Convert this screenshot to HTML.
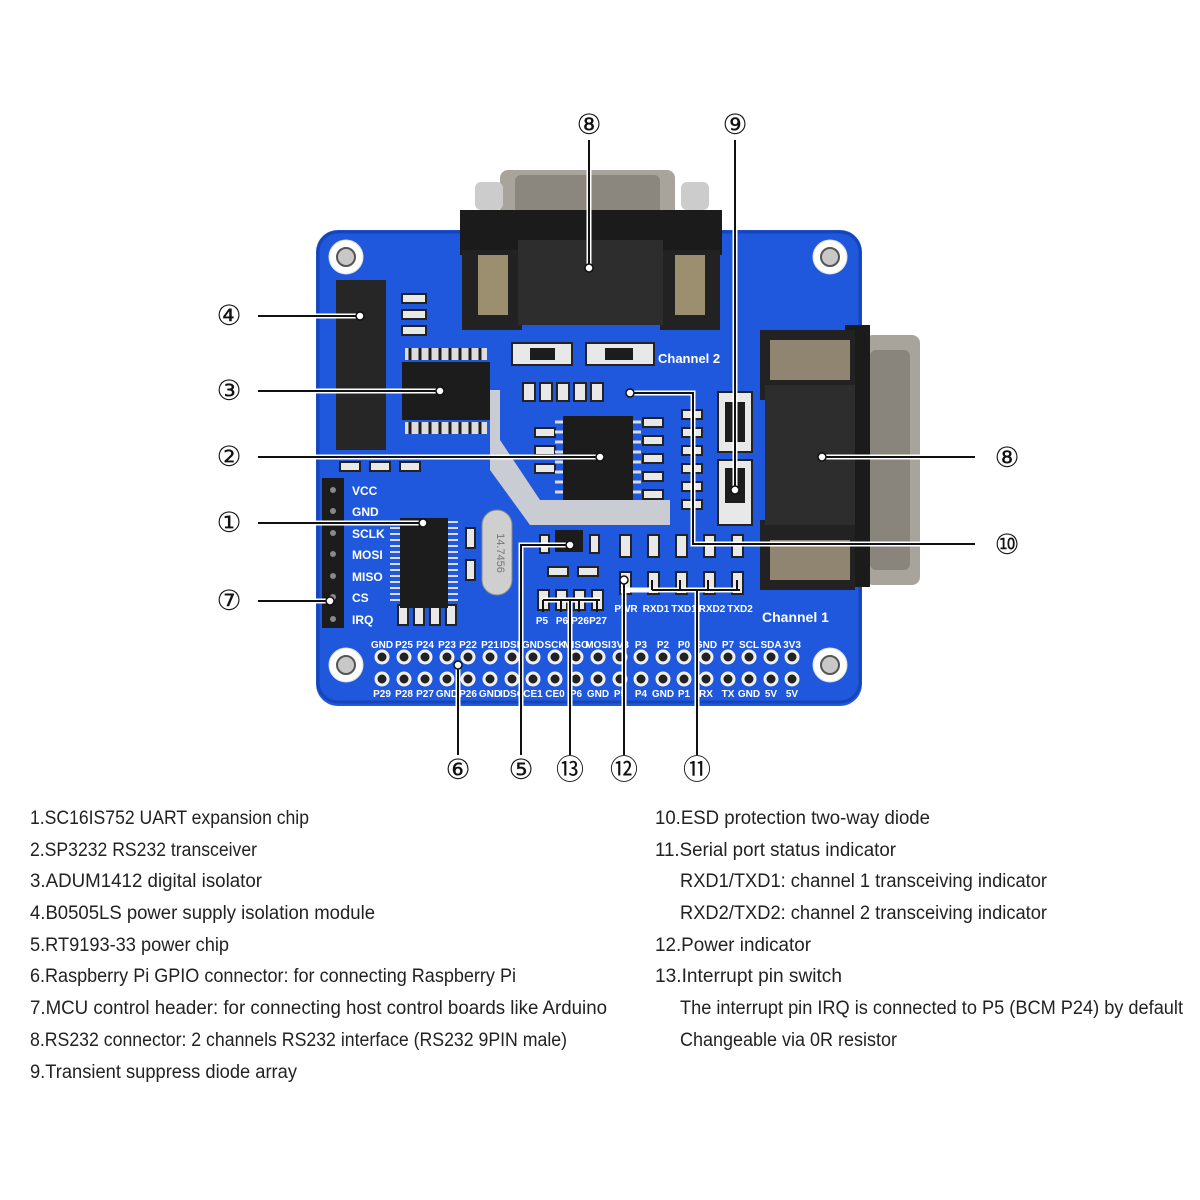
<!DOCTYPE html>
<html><head><meta charset="utf-8"><style>
html,body{margin:0;padding:0;background:#fff;}
svg{display:block}
.t{font-family:"Liberation Sans",sans-serif;font-size:19px;fill:#222}
.c{font-family:"DejaVu Sans",sans-serif;font-size:28px;fill:#111;text-anchor:middle}
.w{font-family:"Liberation Sans",sans-serif;font-weight:bold;fill:#fff}
.p{font-family:"Liberation Sans",sans-serif;font-weight:bold;fill:#fff;font-size:10px;text-anchor:middle}
</style></head><body>
<svg width="1200" height="1200" viewBox="0 0 1200 1200" xmlns="http://www.w3.org/2000/svg">
<rect width="1200" height="1200" fill="#fff"/>
<rect x="316" y="230" width="546" height="476" rx="22" fill="#1f58dc"/>
<rect x="318" y="232" width="542" height="470" rx="20" fill="none" stroke="#1645b8" stroke-width="3"/>
<path d="M500 390 L500 440 L540 500 L670 500 L670 525 L530 525 L490 470 L490 390 Z" fill="#c9ccd3"/>
<g fill="#fff" stroke="#ddd"><circle cx="346" cy="257" r="17"/><circle cx="830" cy="257" r="17"/><circle cx="346" cy="665" r="17"/><circle cx="830" cy="665" r="17"/></g>
<g fill="#c8c8c8" stroke="#555" stroke-width="2"><circle cx="346" cy="257" r="9"/><circle cx="830" cy="257" r="9"/><circle cx="346" cy="665" r="9"/><circle cx="830" cy="665" r="9"/></g>
<rect x="500" y="170" width="175" height="50" rx="8" fill="#a9a49b"/>
<rect x="515" y="175" width="145" height="40" rx="6" fill="#8c877e"/>
<rect x="460" y="210" width="262" height="45" fill="#1b1b1b"/>
<rect x="475" y="182" width="28" height="28" rx="6" fill="#ccc"/><rect x="681" y="182" width="28" height="28" rx="6" fill="#ccc"/>
<rect x="462" y="250" width="60" height="80" fill="#222"/><rect x="660" y="250" width="60" height="80" fill="#222"/>
<rect x="478" y="255" width="30" height="60" fill="#9b8f70"/><rect x="675" y="255" width="30" height="60" fill="#9b8f70"/>
<rect x="518" y="240" width="145" height="85" fill="#2d2d2d"/>
<rect x="865" y="335" width="55" height="250" rx="8" fill="#a9a49b"/>
<rect x="870" y="350" width="40" height="220" rx="6" fill="#8a857c"/>
<rect x="845" y="325" width="25" height="262" fill="#1b1b1b"/>
<rect x="760" y="330" width="95" height="70" fill="#222"/><rect x="760" y="520" width="95" height="70" fill="#222"/>
<rect x="770" y="340" width="80" height="40" fill="#8f8570"/><rect x="770" y="540" width="80" height="40" fill="#8f8570"/>
<rect x="765" y="385" width="90" height="140" fill="#2d2d2d"/>
<rect x="336" y="280" width="50" height="170" fill="#262626"/>
<rect x="402" y="362" width="88" height="58" fill="#1c1c1c"/>
<g fill="#ddd"><rect x="405" y="348" width="82" height="12"/><rect x="405" y="422" width="82" height="12"/></g>
<g stroke="#1c1c1c" stroke-width="3"><path d="M410 348v12M420 348v12M430 348v12M440 348v12M450 348v12M460 348v12M470 348v12M480 348v12M410 422v12M420 422v12M430 422v12M440 422v12M450 422v12M460 422v12M470 422v12M480 422v12"/></g>
<g fill="#e8e8e8" stroke="#222" stroke-width="2">
<rect x="402" y="294" width="24" height="9"/><rect x="402" y="310" width="24" height="9"/><rect x="402" y="326" width="24" height="9"/>
<rect x="340" y="462" width="20" height="9"/><rect x="370" y="462" width="20" height="9"/><rect x="400" y="462" width="20" height="9"/>
<rect x="523" y="383" width="12" height="18"/><rect x="540" y="383" width="12" height="18"/><rect x="557" y="383" width="12" height="18"/><rect x="574" y="383" width="12" height="18"/><rect x="591" y="383" width="12" height="18"/>
<rect x="535" y="428" width="20" height="9"/><rect x="535" y="446" width="20" height="9"/><rect x="535" y="464" width="20" height="9"/>
<rect x="643" y="418" width="20" height="9"/><rect x="643" y="436" width="20" height="9"/><rect x="643" y="454" width="20" height="9"/><rect x="643" y="472" width="20" height="9"/><rect x="643" y="490" width="20" height="9"/>
<rect x="682" y="410" width="20" height="9"/><rect x="682" y="428" width="20" height="9"/><rect x="682" y="446" width="20" height="9"/><rect x="682" y="464" width="20" height="9"/><rect x="682" y="482" width="20" height="9"/><rect x="682" y="500" width="20" height="9"/>
<rect x="466" y="528" width="9" height="20"/><rect x="466" y="560" width="9" height="20"/>
<rect x="590" y="535" width="9" height="18"/><rect x="540" y="535" width="9" height="18"/>
<rect x="548" y="567" width="20" height="9"/><rect x="578" y="567" width="20" height="9"/>
<rect x="398" y="605" width="10" height="20"/><rect x="414" y="605" width="10" height="20"/><rect x="430" y="605" width="10" height="20"/><rect x="446" y="605" width="10" height="20"/>
<rect x="538" y="590" width="11" height="20"/><rect x="556" y="590" width="11" height="20"/><rect x="574" y="590" width="11" height="20"/><rect x="592" y="590" width="11" height="20"/>
<rect x="620" y="535" width="11" height="22"/><rect x="648" y="535" width="11" height="22"/><rect x="676" y="535" width="11" height="22"/><rect x="704" y="535" width="11" height="22"/><rect x="732" y="535" width="11" height="22"/>
<rect x="620" y="572" width="11" height="22"/><rect x="648" y="572" width="11" height="22"/><rect x="676" y="572" width="11" height="22"/><rect x="704" y="572" width="11" height="22"/><rect x="732" y="572" width="11" height="22"/>
<rect x="512" y="343" width="60" height="22"/><rect x="586" y="343" width="68" height="22"/>
</g>
<rect x="530" y="348" width="25" height="12" fill="#1c1c1c"/><rect x="605" y="348" width="28" height="12" fill="#1c1c1c"/>
<rect x="718" y="392" width="34" height="60" fill="#e8e8e8" stroke="#222" stroke-width="2"/><rect x="725" y="402" width="20" height="40" fill="#1c1c1c"/>
<rect x="718" y="460" width="34" height="65" fill="#e8e8e8" stroke="#222" stroke-width="2"/><rect x="725" y="468" width="20" height="35" fill="#1c1c1c"/>
<rect x="563" y="416" width="70" height="84" fill="#1c1c1c"/>
<g stroke="#ddd" stroke-width="3"><path d="M555 422h8M555 432h8M555 442h8M555 452h8M555 462h8M555 472h8M555 482h8M555 492h8M633 422h8M633 432h8M633 442h8M633 452h8M633 462h8M633 472h8M633 482h8M633 492h8"/></g>
<rect x="400" y="518" width="48" height="90" fill="#1c1c1c"/>
<g stroke="#ddd" stroke-width="2"><path d="M390 522h10M390 528h10M390 534h10M390 540h10M390 546h10M390 552h10M390 558h10M390 564h10M390 570h10M390 576h10M390 582h10M390 588h10M390 594h10M390 600h10M448 522h10M448 528h10M448 534h10M448 540h10M448 546h10M448 552h10M448 558h10M448 564h10M448 570h10M448 576h10M448 582h10M448 588h10M448 594h10M448 600h10"/></g>
<rect x="482" y="510" width="30" height="85" rx="15" fill="#cfcfcf" stroke="#888"/>
<text x="497" y="553" transform="rotate(90 497 553)" font-family="Liberation Sans" font-size="11" fill="#777" text-anchor="middle">14.7456</text>
<rect x="555" y="530" width="28" height="22" fill="#1c1c1c"/>
<rect x="322" y="478" width="22" height="150" fill="#1c1c1c"/>
<g fill="#888"><circle cx="333" cy="490" r="3"/><circle cx="333" cy="511" r="3"/><circle cx="333" cy="533" r="3"/><circle cx="333" cy="554" r="3"/><circle cx="333" cy="576" r="3"/><circle cx="333" cy="597" r="3"/><circle cx="333" cy="619" r="3"/></g>
<g class="w" font-size="12"><text x="352" y="495">VCC</text><text x="352" y="516">GND</text><text x="352" y="538">SCLK</text><text x="352" y="559">MOSI</text><text x="352" y="581">MISO</text><text x="352" y="602">CS</text><text x="352" y="624">IRQ</text></g>
<text class="w" x="658" y="363" font-size="13">Channel 2</text>
<text class="w" x="762" y="622" font-size="14">Channel 1</text>
<g class="p" font-size="8"><text x="542" y="624">P5</text><text x="562" y="624">P6</text><text x="580" y="624">P26</text><text x="598" y="624">P27</text><text x="626" y="612">PWR</text><text x="656" y="612">RXD1</text><text x="684" y="612">TXD1</text><text x="712" y="612">RXD2</text><text x="740" y="612">TXD2</text></g>
<g fill="#222" stroke="#f0f0f0" stroke-width="3">
<circle cx="382" cy="657" r="6"/><circle cx="404" cy="657" r="6"/><circle cx="425" cy="657" r="6"/><circle cx="447" cy="657" r="6"/><circle cx="468" cy="657" r="6"/><circle cx="490" cy="657" r="6"/><circle cx="512" cy="657" r="6"/><circle cx="533" cy="657" r="6"/><circle cx="555" cy="657" r="6"/><circle cx="576" cy="657" r="6"/><circle cx="598" cy="657" r="6"/><circle cx="620" cy="657" r="6"/><circle cx="641" cy="657" r="6"/><circle cx="663" cy="657" r="6"/><circle cx="684" cy="657" r="6"/><circle cx="706" cy="657" r="6"/><circle cx="728" cy="657" r="6"/><circle cx="749" cy="657" r="6"/><circle cx="771" cy="657" r="6"/><circle cx="792" cy="657" r="6"/>
<circle cx="382" cy="679" r="6"/><circle cx="404" cy="679" r="6"/><circle cx="425" cy="679" r="6"/><circle cx="447" cy="679" r="6"/><circle cx="468" cy="679" r="6"/><circle cx="490" cy="679" r="6"/><circle cx="512" cy="679" r="6"/><circle cx="533" cy="679" r="6"/><circle cx="555" cy="679" r="6"/><circle cx="576" cy="679" r="6"/><circle cx="598" cy="679" r="6"/><circle cx="620" cy="679" r="6"/><circle cx="641" cy="679" r="6"/><circle cx="663" cy="679" r="6"/><circle cx="684" cy="679" r="6"/><circle cx="706" cy="679" r="6"/><circle cx="728" cy="679" r="6"/><circle cx="749" cy="679" r="6"/><circle cx="771" cy="679" r="6"/><circle cx="792" cy="679" r="6"/>
</g>
<g class="p" font-size="9.5">
<text x="382" y="648">GND</text><text x="404" y="648">P25</text><text x="425" y="648">P24</text><text x="447" y="648">P23</text><text x="468" y="648">P22</text><text x="490" y="648">P21</text><text x="512" y="648">IDSD</text><text x="533" y="648">GND</text><text x="555" y="648">SCK</text><text x="576" y="648">MISO</text><text x="598" y="648">MOSI</text><text x="620" y="648">3V3</text><text x="641" y="648">P3</text><text x="663" y="648">P2</text><text x="684" y="648">P0</text><text x="706" y="648">GND</text><text x="728" y="648">P7</text><text x="749" y="648">SCL</text><text x="771" y="648">SDA</text><text x="792" y="648">3V3</text>
<text x="382" y="697">P29</text><text x="404" y="697">P28</text><text x="425" y="697">P27</text><text x="447" y="697">GND</text><text x="468" y="697">P26</text><text x="490" y="697">GND</text><text x="512" y="697">IDSC</text><text x="533" y="697">CE1</text><text x="555" y="697">CE0</text><text x="576" y="697">P6</text><text x="598" y="697">GND</text><text x="620" y="697">P5</text><text x="641" y="697">P4</text><text x="663" y="697">GND</text><text x="684" y="697">P1</text><text x="706" y="697">RX</text><text x="728" y="697">TX</text><text x="749" y="697">GND</text><text x="771" y="697">5V</text><text x="792" y="697">5V</text>
</g>
<g stroke="#fff" stroke-width="5" fill="none">
<path d="M258 316H360M258 391H440M258 457H600M258 523H423M258 601H330M589 140V268M735 140V490M975 457H822M975 544H693V393H630M458 755V665M521 755V545H570M570 755V600M543 600H600M624 755V580M697 755V590M624 590H740"/>
</g>
<g stroke="#111" stroke-width="2" fill="none">
<path d="M258 316H360M258 391H440M258 457H600M258 523H423M258 601H330M589 140V268M735 140V490M975 457H822M975 544H693V393H630M458 755V665M521 755V545H570M570 755V600M543 600H600M543 600V612M561 600V612M579 600V612M597 600V612M624 755V580M697 755V590M652 590H740M652 590V580M680 590V580M708 590V580M737 590V580"/>
</g>
<g fill="#fff" stroke="#111" stroke-width="1.5">
<circle cx="360" cy="316" r="4"/><circle cx="440" cy="391" r="4"/><circle cx="600" cy="457" r="4"/><circle cx="423" cy="523" r="4"/><circle cx="330" cy="601" r="4"/><circle cx="589" cy="268" r="4"/><circle cx="735" cy="490" r="4"/><circle cx="822" cy="457" r="4"/><circle cx="630" cy="393" r="4"/><circle cx="458" cy="665" r="4"/><circle cx="570" cy="545" r="4"/><circle cx="624" cy="580" r="4"/>
</g>
<g class="c">
<text x="589" y="134">⑧</text><text x="735" y="134">⑨</text><text x="229" y="325">④</text><text x="229" y="400">③</text><text x="229" y="466">②</text><text x="229" y="532">①</text><text x="229" y="610">⑦</text><text x="1007" y="467">⑧</text><text x="1007" y="554">⑩</text><text x="458" y="779">⑥</text><text x="521" y="779">⑤</text><text x="570" y="779">⑬</text><text x="624" y="779">⑫</text><text x="697" y="779">⑪</text>
</g>
<g class="t" lengthAdjust="spacingAndGlyphs">
<text x="30" y="824" textLength="279" lengthAdjust="spacingAndGlyphs">1.SC16IS752 UART expansion chip</text>
<text x="30" y="856" textLength="227" lengthAdjust="spacingAndGlyphs">2.SP3232 RS232 transceiver</text>
<text x="30" y="887" textLength="232" lengthAdjust="spacingAndGlyphs">3.ADUM1412 digital isolator</text>
<text x="30" y="919" textLength="345" lengthAdjust="spacingAndGlyphs">4.B0505LS power supply isolation module</text>
<text x="30" y="951" textLength="199" lengthAdjust="spacingAndGlyphs">5.RT9193-33 power chip</text>
<text x="30" y="982" textLength="486" lengthAdjust="spacingAndGlyphs">6.Raspberry Pi GPIO connector: for connecting Raspberry Pi</text>
<text x="30" y="1014" textLength="577" lengthAdjust="spacingAndGlyphs">7.MCU control header: for connecting host control boards like Arduino</text>
<text x="30" y="1046" textLength="537" lengthAdjust="spacingAndGlyphs">8.RS232 connector: 2 channels RS232 interface (RS232 9PIN male)</text>
<text x="30" y="1078" textLength="267" lengthAdjust="spacingAndGlyphs">9.Transient suppress diode array</text>
<text x="655" y="824" textLength="275" lengthAdjust="spacingAndGlyphs">10.ESD protection two-way diode</text>
<text x="655" y="856" textLength="241" lengthAdjust="spacingAndGlyphs">11.Serial port status indicator</text>
<text x="680" y="887" textLength="367" lengthAdjust="spacingAndGlyphs">RXD1/TXD1: channel 1 transceiving indicator</text>
<text x="680" y="919" textLength="367" lengthAdjust="spacingAndGlyphs">RXD2/TXD2: channel 2 transceiving indicator</text>
<text x="655" y="951" textLength="156" lengthAdjust="spacingAndGlyphs">12.Power indicator</text>
<text x="655" y="982" textLength="187" lengthAdjust="spacingAndGlyphs">13.Interrupt pin switch</text>
<text x="680" y="1014" textLength="503" lengthAdjust="spacingAndGlyphs">The interrupt pin IRQ is connected to P5 (BCM P24) by default</text>
<text x="680" y="1046" textLength="217" lengthAdjust="spacingAndGlyphs">Changeable via 0R resistor</text>
</g>
</svg>
</body></html>
